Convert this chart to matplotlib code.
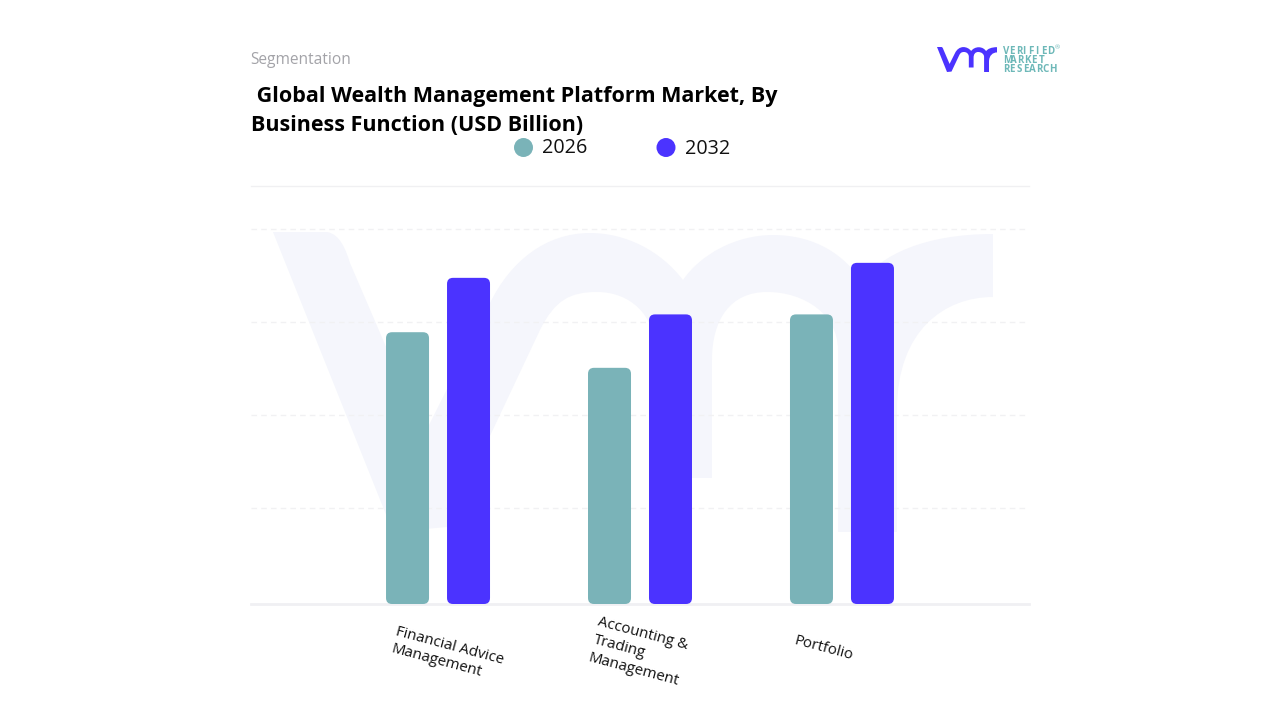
import matplotlib
matplotlib.use("Agg")
import matplotlib.pyplot as plt
from matplotlib.patches import FancyBboxPatch, PathPatch
from matplotlib.path import Path
from matplotlib.transforms import Affine2D

plt.rcParams['font.family'] = ['Open Sans', 'DejaVu Sans']

# valores
categories = ["Financial Advice\nManagement", "Accounting &\nTrading\nManagement", "Portfolio"]
years = ["2026", "2032"]
values_2026 = [2.90, 2.52, 3.09]
values_2032 = [3.48, 3.09, 3.64]
grid_vals = [1.02, 2.02, 3.01, 4.0]

TEAL = "#7AB3B8"
BLUE = "#4B33FF"
PALE = "#F5F6FC"

M, L, C, Z = Path.MOVETO, Path.LINETO, Path.CURVE4, Path.CLOSEPOLY

# contorno del logo "vmr" en pixeles de la marca de agua
logo_segs = [
    (M, [(273, 232)]),
    (L, [(327, 232)]),
    (C, [(340, 234), (346, 250), (350, 263)]),
    (L, [(424, 435)]),
    (L, [(490, 303)]),
    (C, [(510, 262), (545, 233), (590, 233)]),
    (C, [(625, 233), (660, 250), (683, 280)]),
    (C, [(700, 255), (735, 235), (773, 235)]),
    (C, [(815, 235), (845, 255), (862, 282)]),
    (C, [(880, 255), (925, 234), (993, 234)]),
    (L, [(993, 297)]),
    (C, [(945, 297), (897, 330), (897, 410)]),
    (L, [(897, 532)]),
    (L, [(838, 532)]),
    (L, [(838, 350)]),
    (C, [(838, 315), (805, 292), (767, 292)]),
    (C, [(730, 292), (712, 320), (712, 360)]),
    (L, [(712, 478)]),
    (L, [(655, 478)]),
    (L, [(655, 350)]),
    (C, [(655, 315), (630, 292), (597, 292)]),
    (C, [(570, 292), (555, 300), (540, 330)]),
    (L, [(447, 527)]),
    (L, [(393, 532)]),
    (Z, [(273, 232)]),
]
verts, codes = [], []
for code, pts in logo_segs:
    verts += pts
    codes += [code] * len(pts)
logo_path = Path(verts, codes)

fig = plt.figure(figsize=(12.8, 7.2), dpi=100, facecolor="white")

# capa de fondo en pixeles para marca de agua y logo
bg = fig.add_axes([0, 0, 1, 1], zorder=0)
bg.set_xlim(0, 1280)
bg.set_ylim(720, 0)
bg.axis("off")

bg.add_patch(PathPatch(logo_path, fc=PALE, ec="none"))

# logo chico: misma forma escalada
small = logo_path.transformed(Affine2D().translate(-273, -232).scale(1 / 12).translate(937, 47))
bg.add_patch(PathPatch(small, fc=BLUE, ec="none"))
logo_lines = [("VERIFIED", 51, 6.35), ("MARKET", 60.5, 7.1), ("RESEARCH", 69.5, 6.6)]
for word, wy, step in logo_lines:
    for k, ch in enumerate(word):
        bg.text(1003 + k * step, wy, ch, fontsize=7, color="#6DB8B8", va="center", fontweight="bold")
bg.text(1057, 48, "®", fontsize=4.5, color="#6DB8B8", ha="center", va="center")

# eje principal
ax = fig.add_axes([251 / 1280, 1 - 604 / 720, 778 / 1280, 418 / 720], zorder=1)
ax.patch.set_alpha(0)
ax.set_xlim(-0.926, 2.926)
ax.set_ylim(0, 4.46)
for s in ax.spines.values():
    s.set_visible(False)
ax.tick_params(left=False, bottom=False, labelleft=False, labelbottom=False)

for g in grid_vals:
    ax.axhline(g, color="#F1F1F3", lw=1, ls=(0, (4, 3)), zorder=1)
ax.axhline(4.46, color="#F0F0F2", lw=1, zorder=1, clip_on=False)
ax.axhline(0, color="#F0F0F3", lw=2, zorder=1, clip_on=False)

# escala para que las esquinas queden redondas
xpx = 778 / (2.926 + 0.926)
ypx = 418 / 4.46
bar_w = 43 / xpx
offs = [-0.151, 0.151]


def rounded_bar(x, h, color):
    p = FancyBboxPatch((x - bar_w / 2, 0), bar_w, h,
                       boxstyle=f"round,pad=0,rounding_size={6 / xpx}",
                       mutation_aspect=xpx / ypx, fc=color, ec="none", zorder=3)
    ax.add_patch(p)


for i in range(len(categories)):
    rounded_bar(i + offs[0], values_2026[i], TEAL)
    rounded_bar(i + offs[1], values_2032[i], BLUE)

# capa de textos en pixeles
fg = fig.add_axes([0, 0, 1, 1], zorder=2)
fg.set_xlim(0, 1280)
fg.set_ylim(720, 0)
fg.axis("off")

fg.text(250, 60.5, "Segmentation", fontsize=11.2, color="#A3A3A8", va="center")
fg.text(251, 96.5, " Global Wealth Management Platform Market, By", fontsize=15.5,
        fontweight="bold", color="black", va="center")
fg.text(251, 125.5, "Business Function (USD Billion)", fontsize=15.5,
        fontweight="bold", color="black", va="center")

# leyenda
fg.scatter([523.5, 666], [147.5, 147.5], s=187, c=[TEAL, BLUE], linewidths=0)
fg.text(542, 148, years[0], fontsize=14.2, va="center", color="#111111")
fg.text(685, 149, years[1], fontsize=14.2, va="center", color="#111111")

# etiquetas rotadas
lab_pos = [(398, 624), (600, 615), (796, 633)]
for (lx, ly), lab in zip(lab_pos, categories):
    fg.text(lx, ly, lab, fontsize=10.8, rotation=-15, rotation_mode="anchor",
            ha="left", va="top", multialignment="left", color="#111111", linespacing=1.3)

fig.savefig("out.png", dpi=100)
